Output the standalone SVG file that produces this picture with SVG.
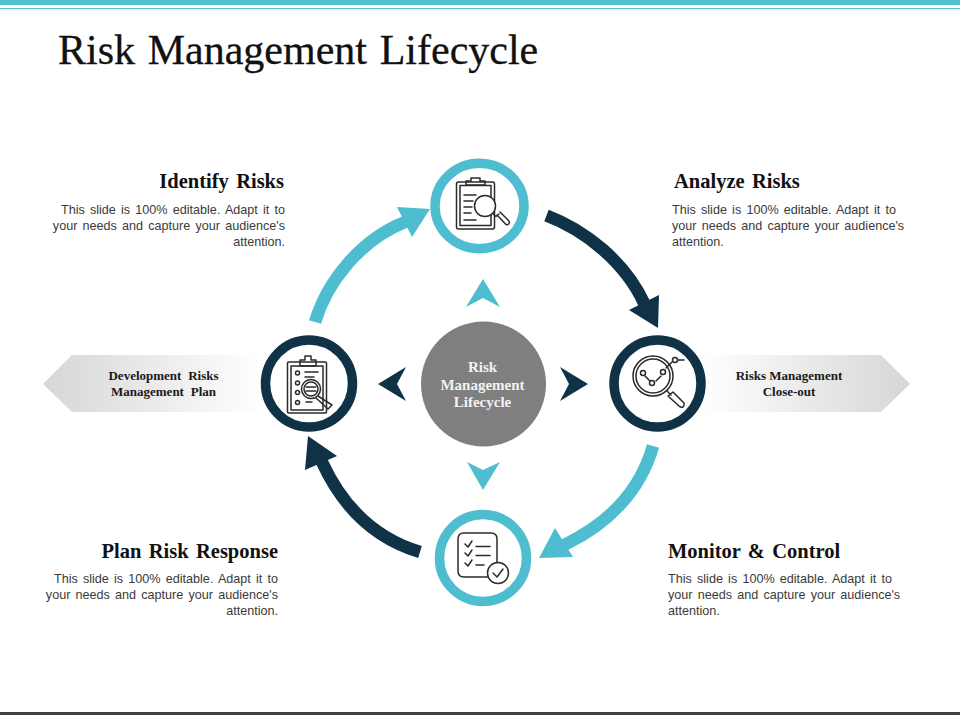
<svg xmlns="http://www.w3.org/2000/svg" width="960" height="720" viewBox="0 0 960 720">
<style>
.h{font:bold 20.5px "Liberation Serif",serif;fill:#111;word-spacing:2.200px}
.b{font:12.6px "Liberation Sans",Arial,sans-serif;fill:#3a3a3a;word-spacing:1.700px}
.s{font:bold 13px "Liberation Serif",serif;fill:#1a1a1a;word-spacing:3.500px;text-anchor:middle}
.c{font:bold 15px "Liberation Serif",serif;fill:#f2f2f2;text-anchor:middle}
.e{text-anchor:end}
.t{fill:#4dbdcf}.d{fill:#0f3247}
.rt{fill:#fff;stroke:#4dbdcf;stroke-width:9.5}.rd{fill:#fff;stroke:#0f3247;stroke-width:9.5}
.i{fill:none;stroke:#2b2b2b;stroke-width:1.5;stroke-linecap:round;stroke-linejoin:round}
.at{fill:none;stroke:#4dbdcf;stroke-width:12.5}.ad{fill:none;stroke:#0f3247;stroke-width:12.5}
</style>
<defs>
<linearGradient id="gl" x1="0" x2="1" y1="0" y2="0"><stop offset="0" stop-color="#d6d6d6"/><stop offset="1" stop-color="#fff"/></linearGradient>
<linearGradient id="gr" x1="0" x2="1" y1="0" y2="0"><stop offset="0" stop-color="#fff"/><stop offset="1" stop-color="#d6d6d6"/></linearGradient>
</defs>
<rect width="960" height="720" fill="#fff"/>
<rect width="960" height="5" fill="#54bdd2"/>
<rect y="8" width="960" height="1" fill="#6fb4c0"/>
<rect y="9" width="960" height="2" fill="#dff5f8"/>
<rect y="712" width="960" height="3" fill="#3f3f46"/>
<text x="58" y="64" style="font:42px 'Liberation Serif',serif;fill:#111;stroke:#111;stroke-width:.3;word-spacing:2.200px">Risk Management Lifecycle</text>

<g id="banner-left"><polygon points="43,384 72,355 262,355 262,412 72,412" fill="url(#gl)"/>
<text class="s" x="163.500" y="380">Development Risks</text><text class="s" x="163.500" y="396">Management Plan</text></g>
<g id="banner-right"><polygon points="700,355 881,355 910,384 881,412 700,412" fill="url(#gr)"/>
<text class="s" x="789" y="380" style="word-spacing:0">Risks Management</text><text class="s" x="789" y="396" style="word-spacing:0">Close-out</text></g>

<g id="connectors">
<path class="at" d="M315 322C327 282 360 240 405 222L412 219.500"/><polygon class="t" points="430,209 397,207 412,237"/>
<path class="ad" d="M546.500 215.500C585 230 625 262 644 303L647 310"/><polygon class="d" points="658,328 629,310 659,295"/>
<path class="at" d="M653 446C640 492 607 524 566 544L558 548"/><polygon class="t" points="539,558 555,528 573,557"/>
<path class="ad" d="M420 552C380 540 345 512 322 462L319 455"/><polygon class="d" points="308,436 337,456 305,470"/>
<polygon class="t" points="483,279 500,307 483,298 466,307"/>
<polygon class="t" points="483,490 467,462 483,470 500,462"/>
<polygon class="d" points="378,384 406,367 397,384 406,401"/>
<polygon class="d" points="588,384 560,367 569,384 560,401"/>
</g>

<g id="center"><circle cx="483.500" cy="384" r="62.500" fill="#7f7f7f"/>
<text class="c" x="482.500" y="372">Risk</text><text class="c" x="482.500" y="390">Management</text><text class="c" x="482.500" y="407">Lifecycle</text></g>

<g id="node-identify"><ellipse class="rt" cx="479.500" cy="206" rx="44.500" ry="42.700"/>
<g class="i"><rect x="456.500" y="182" width="38" height="47" rx="2"/><rect x="460" y="185.500" width="31" height="40"/><path d="M466 185V181H471V178H480V181H485V185Z"/><path d="M464 195H476M464 201H473M464 207H472M464 213H471M464 220H476"/><circle cx="485" cy="206" r="10.500" fill="#fff"/><path d="M493 214L496 216.500L499 214M497 215L506 224.500Q508 225.500 509 223.500Q510 222 508 220L500 212"/></g></g>

<g id="node-analyze"><circle class="rd" cx="657.500" cy="383.500" r="43.500"/>
<g class="i"><circle cx="653" cy="376" r="20"/><circle cx="653" cy="376" r="17"/><path d="M667 391L671 395M668 396L673 392L684 403Q685 405 683 407Q681 408 679 406Z"/><path d="M645 376L650 381M656 381L661 376M666 368L672 362M678 360H684"/><circle cx="643" cy="373" r="2.500"/><circle cx="652" cy="383" r="2.500"/><circle cx="663" cy="372" r="2.500"/><circle cx="675" cy="360" r="2.500"/></g></g>

<g id="node-plan"><circle class="rd" cx="309" cy="383.500" r="43.500"/>
<g class="i"><rect x="287.500" y="362" width="39" height="51" rx="1"/><rect x="291" y="366" width="32" height="44"/><path d="M300 366V360H305V356H311V360H316V366Z"/><circle cx="297.500" cy="373" r="2"/><circle cx="297.500" cy="383" r="2"/><circle cx="297.500" cy="392.500" r="2"/><circle cx="297.500" cy="402.500" r="2"/><path d="M305 372H318M305 377H314M306 402H312"/><circle cx="311" cy="389" r="9.500" fill="#fff"/><circle cx="311" cy="389" r="7"/><path d="M306 387H316M306 391H316M318 396L332 405L328 409L316 398"/></g></g>

<g id="node-monitor"><circle class="rt" cx="483" cy="558" r="43.500"/>
<g class="i" stroke-width="1.800"><path d="M488 577H464Q458 577 458 571V539Q458 533 464 533H491Q497 533 497 539V562"/><path d="M465 544L468 547L472 541M465 553L468 556L472 550M465 563L468 566L472 560M476 546.500H490M476 555.500H490M476 565H484"/><circle cx="498" cy="573" r="10.500"/><path d="M493 573L497 577L503 569"/></g></g>

<g id="text-identify"><text class="h e" x="284" y="188">Identify Risks</text>
<text class="b e" x="285" y="214">This slide is 100% editable. Adapt it to</text><text class="b e" x="285" y="230">your needs and capture your audience's</text><text class="b e" x="285" y="246">attention.</text></g>
<g id="text-analyze"><text class="h" x="674" y="188">Analyze Risks</text>
<text class="b" x="672" y="214">This slide is 100% editable. Adapt it to</text><text class="b" x="672" y="230">your needs and capture your audience's</text><text class="b" x="672" y="246">attention.</text></g>
<g id="text-plan"><text class="h e" x="278" y="558">Plan Risk Response</text>
<text class="b e" x="278" y="583">This slide is 100% editable. Adapt it to</text><text class="b e" x="278" y="599">your needs and capture your audience's</text><text class="b e" x="278" y="615">attention.</text></g>
<g id="text-monitor"><text class="h" x="668" y="558">Monitor &amp; Control</text>
<text class="b" x="668" y="583">This slide is 100% editable. Adapt it to</text><text class="b" x="668" y="599">your needs and capture your audience's</text><text class="b" x="668" y="615">attention.</text></g>
</svg>
